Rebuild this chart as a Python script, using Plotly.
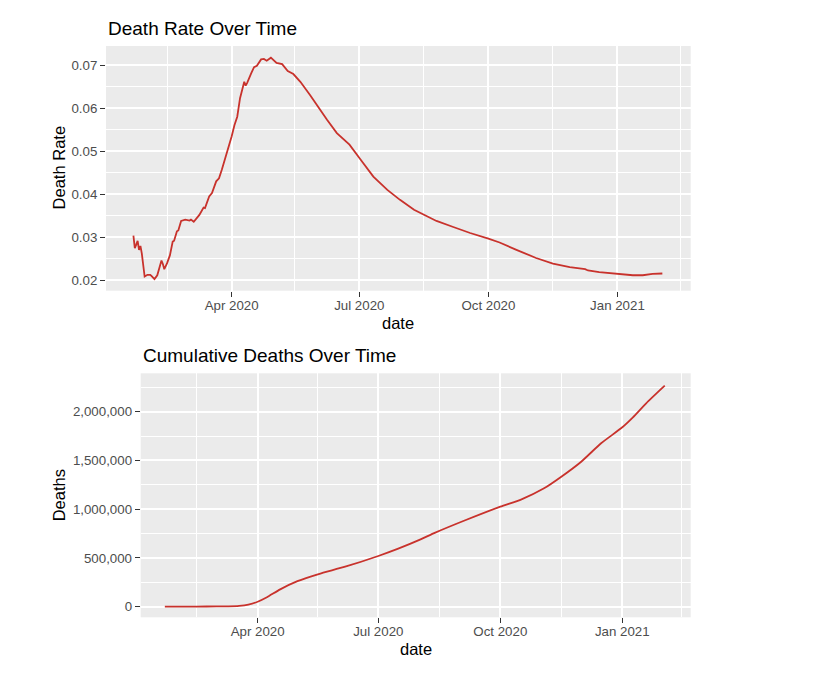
import plotly.graph_objects as go

# ---------------- data ----------------
rate_dates = [
    "2020-01-22", "2020-01-23", "2020-01-24", "2020-01-25", "2020-01-26", "2020-01-27",
    "2020-01-28", "2020-01-29", "2020-01-30", "2020-02-01", "2020-02-03", "2020-02-04",
    "2020-02-06", "2020-02-08", "2020-02-10", "2020-02-11", "2020-02-12", "2020-02-13",
    "2020-02-15", "2020-02-17", "2020-02-19", "2020-02-20", "2020-02-22", "2020-02-23",
    "2020-02-25", "2020-02-28", "2020-03-02", "2020-03-03", "2020-03-05", "2020-03-09",
    "2020-03-12", "2020-03-13", "2020-03-16", "2020-03-18", "2020-03-21", "2020-03-23",
    "2020-03-25", "2020-03-28", "2020-04-01", "2020-04-03", "2020-04-05", "2020-04-07",
    "2020-04-10", "2020-04-11", "2020-04-12", "2020-04-15", "2020-04-17", "2020-04-19",
    "2020-04-22", "2020-04-24", "2020-04-26", "2020-04-29", "2020-05-01", "2020-05-03",
    "2020-05-07", "2020-05-11", "2020-05-15", "2020-05-20", "2020-05-27", "2020-06-02",
    "2020-06-08", "2020-06-15", "2020-06-24", "2020-07-02", "2020-07-11", "2020-07-21",
    "2020-07-30", "2020-08-09", "2020-08-16", "2020-08-25", "2020-09-06", "2020-09-18",
    "2020-10-01", "2020-10-09", "2020-10-21", "2020-11-04", "2020-11-16", "2020-11-28",
    "2020-12-09", "2020-12-11", "2020-12-19", "2020-12-31", "2021-01-12", "2021-01-19",
    "2021-01-26", "2021-02-02",
]
rate_values = [
    0.0304, 0.0275, 0.0283, 0.0292, 0.0271, 0.0280,
    0.0262, 0.0232, 0.0209, 0.0213, 0.0213, 0.0210,
    0.0203, 0.0212, 0.0232, 0.0246, 0.0238, 0.0226,
    0.0240, 0.0258, 0.0290, 0.0292, 0.0314, 0.0316,
    0.0338, 0.0341, 0.0339, 0.0341, 0.0336, 0.0352,
    0.0369, 0.0368, 0.0395, 0.0403, 0.0430, 0.0437,
    0.0457, 0.0488, 0.0534, 0.0560, 0.0580, 0.0623,
    0.0661, 0.0652, 0.0658, 0.0681, 0.0695, 0.0698,
    0.0713, 0.0714, 0.0710, 0.0717, 0.0712, 0.0705,
    0.0702, 0.0686, 0.0679, 0.0661, 0.0630, 0.0600,
    0.0573, 0.0542, 0.0515, 0.0480, 0.0441, 0.0410,
    0.0387, 0.0364, 0.0352, 0.0338, 0.0324, 0.0310,
    0.0297, 0.0288, 0.0271, 0.0252, 0.0239, 0.0231,
    0.0226, 0.0223, 0.0219, 0.0216, 0.0212, 0.0212,
    0.0215, 0.0216,
]

death_dates = [
    "2020-01-22", "2020-02-01", "2020-02-15", "2020-03-01", "2020-03-10", "2020-03-18",
    "2020-03-25", "2020-04-01", "2020-04-08", "2020-04-18", "2020-05-01", "2020-05-17",
    "2020-06-06", "2020-07-01", "2020-07-16", "2020-08-01", "2020-08-13", "2020-09-05",
    "2020-10-01", "2020-10-17", "2020-11-03", "2020-11-16", "2020-12-01", "2020-12-16",
    "2021-01-01", "2021-01-09", "2021-01-19", "2021-02-02",
]
death_values = [
    17, 259, 1666, 2996, 4262, 9000,
    22000, 51000, 97000, 178000, 262000, 335000,
    410000, 520000, 595000, 685000, 760000, 889000,
    1026000, 1101000, 1214000, 1333000, 1487000, 1676000,
    1840000, 1942000, 2086000, 2267000,
]

x_tick_vals = ["2020-04-01", "2020-07-01", "2020-10-01", "2021-01-01"]
x_tick_text = ["Apr 2020", "Jul 2020", "Oct 2020", "Jan 2021"]
x_minor_vals = ["2020-02-15", "2020-05-16", "2020-08-16", "2020-11-16", "2021-02-15"]

rate_tick_vals = [0.02, 0.03, 0.04, 0.05, 0.06, 0.07]
rate_tick_text = ["0.02", "0.03", "0.04", "0.05", "0.06", "0.07"]
rate_minor_vals = [0.025, 0.035, 0.045, 0.055, 0.065]

death_tick_vals = [0, 500000, 1000000, 1500000, 2000000]
death_tick_text = ["0", "500,000", "1,000,000", "1,500,000", "2,000,000"]
death_minor_vals = [250000, 750000, 1250000, 1750000, 2250000]

# ---------------- style ----------------
W, H = 830, 676
FONT = "Liberation Sans, Arial, Helvetica, sans-serif"
LINE = "#C8322C"
PANEL = "#EBEBEB"


def px(xp):
    return xp / W


def py(yp):
    return 1 - yp / H


common_axis = dict(
    showgrid=True, gridcolor="white", gridwidth=2,
    zeroline=False, showline=False,
    ticks="outside", ticklen=5, tickwidth=1, tickcolor="#333333",
    tickfont=dict(family=FONT, size=13.3, color="#4D4D4D"),
    fixedrange=True,
)

fig = go.Figure()
fig.add_trace(go.Scatter(x=rate_dates, y=rate_values, mode="lines",
                         line=dict(color=LINE, width=1.8), xaxis="x", yaxis="y",
                         showlegend=False))
fig.add_trace(go.Scatter(x=death_dates, y=death_values, mode="lines",
                         line=dict(color=LINE, width=1.8, shape="spline", smoothing=0.6),
                         xaxis="x2", yaxis="y2", showlegend=False))

fig.update_layout(
    width=W, height=H,
    margin=dict(l=0, r=0, t=0, b=0, autoexpand=False),
    paper_bgcolor="white",
    font=dict(family=FONT),
    xaxis=dict(common_axis, domain=[px(106), px(690.7)], anchor="y",
               type="date", range=["2020-01-02 11:00", "2021-02-22 05:00"],
               tickmode="array", tickvals=x_tick_vals, ticktext=x_tick_text,
               ticklabelstandoff=-3,
               minor=dict(tickmode="array", tickvals=x_minor_vals, showgrid=True,
                          gridcolor="white", gridwidth=1, ticks="")),
    yaxis=dict(common_axis, domain=[py(290.7), py(46)], anchor="x",
               range=[0.01761, 0.07441],
               tickmode="array", tickvals=rate_tick_vals, ticktext=rate_tick_text,
               minor=dict(tickmode="array", tickvals=rate_minor_vals, showgrid=True,
                          gridcolor="white", gridwidth=1, ticks="")),
    xaxis2=dict(common_axis, domain=[px(140.7), px(690.7)], anchor="y2",
                type="date", range=["2020-01-03 19:00", "2021-02-21 14:00"],
                tickmode="array", tickvals=x_tick_vals, ticktext=x_tick_text,
                ticklabelstandoff=-3,
                minor=dict(tickmode="array", tickvals=x_minor_vals, showgrid=True,
                           gridcolor="white", gridwidth=1, ticks="")),
    yaxis2=dict(common_axis, domain=[py(617.3), py(373.3)], anchor="x2",
                range=[-108700, 2393800],
                tickmode="array", tickvals=death_tick_vals, ticktext=death_tick_text,
                minor=dict(tickmode="array", tickvals=death_minor_vals, showgrid=True,
                           gridcolor="white", gridwidth=1, ticks="")),
    plot_bgcolor=PANEL,
)

ann = []
ann.append(dict(text="Death Rate Over Time", x=px(106), y=py(28.5), xref="paper", yref="paper",
                xanchor="left", yanchor="middle", showarrow=False,
                font=dict(family=FONT, size=19, color="black")))
ann.append(dict(text="Cumulative Deaths Over Time", x=px(140.7), y=py(355), xref="paper",
                yref="paper", xanchor="left", yanchor="middle", showarrow=False,
                font=dict(family=FONT, size=19, color="black")))
ann.append(dict(text="date", x=px(398.3), y=py(322.5), xref="paper", yref="paper",
                xanchor="center", yanchor="middle", showarrow=False,
                font=dict(family=FONT, size=16.5, color="black")))
ann.append(dict(text="date", x=px(415.7), y=py(649), xref="paper", yref="paper",
                xanchor="center", yanchor="middle", showarrow=False,
                font=dict(family=FONT, size=16.5, color="black")))
ann.append(dict(text="Death Rate", x=px(59), y=py(168.4), xref="paper", yref="paper",
                xanchor="center", yanchor="middle", showarrow=False, textangle=-90,
                font=dict(family=FONT, size=16.5, color="black")))
ann.append(dict(text="Deaths", x=px(59), y=py(495.3), xref="paper", yref="paper",
                xanchor="center", yanchor="middle", showarrow=False, textangle=-90,
                font=dict(family=FONT, size=16.5, color="black")))
fig.update_layout(annotations=ann)

fig.write_html("out.html")
